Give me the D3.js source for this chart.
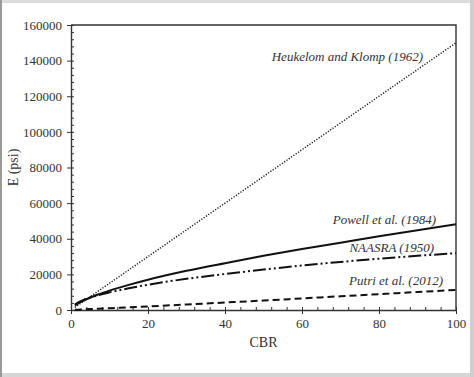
<!DOCTYPE html>
<html>
<head>
<meta charset="utf-8">
<script src="https://cdn.jsdelivr.net/npm/d3@7"></script>
</head>
<body style="margin:0">
<script>
// data
const cbr = [1, 2, 3, 5, 7, 10, 15, 20, 30, 40, 50, 60, 70, 80, 90, 100];
const heukelom = [1500, 3000, 4500, 7500, 10500, 15000, 22500, 30000, 45000, 60000, 75000, 90000, 105000, 120000, 135000, 150000];
const powell = [2500, 3900, 5000, 7000, 8700, 10900, 14100, 17000, 22000, 26300, 30400, 34200, 37800, 41400, 44800, 48100];
const naasra = [3100, 4400, 5400, 7000, 8300, 9900, 12200, 14200, 17500, 20200, 22700, 25000, 27000, 28800, 30400, 31900];
const putri = [100, 200, 300, 500, 700, 1000, 1500, 2000, 3100, 4200, 5300, 6500, 7700, 8900, 10100, 11300];
const xTicks = [0, 20, 40, 60, 80, 100];
const yTicks = [0, 20000, 40000, 60000, 80000, 100000, 120000, 140000, 160000];

const series = [
  {name: 'Heukelom and Klomp (1962)', values: heukelom, dash: '1.2,1.6', w: 1.4, lx: 423, ly: 61},
  {name: 'Powell et al. (1984)', values: powell, dash: null, w: 2, lx: 436, ly: 224},
  {name: 'NAASRA (1950)', values: naasra, dash: '13,3,2,3,2,3', w: 2, lx: 434, ly: 252},
  {name: 'Putri et al. (2012)', values: putri, dash: '7,4', w: 2, lx: 443, ly: 285}
];

const W = 474, H = 377;
const plot = {left: 71, right: 456, top: 25, bottom: 310};
const serif = "'Liberation Serif'";

const svg = d3.select('body')
  .append('svg')
  .attr('width', W)
  .attr('height', H)
  .style('display', 'block');

// outer frame of the figure
svg.append('rect').attr('x', 0).attr('y', 0).attr('width', W).attr('height', 3).attr('fill', '#dcdcdc');
svg.append('rect').attr('x', 0).attr('y', 373).attr('width', W).attr('height', 4).attr('fill', '#d6d6d6');
svg.append('rect').attr('x', 470).attr('y', 0).attr('width', 4).attr('height', H).attr('fill', '#cfcfcf');
svg.append('rect').attr('x', 0).attr('y', 0).attr('width', 2).attr('height', H).attr('fill', '#9a9a9a');

const x = d3.scaleLinear().domain([0, 100]).range([plot.left, plot.right]);
const y = d3.scaleLinear().domain([0, 160000]).range([plot.bottom, plot.top]);

// box top/right
svg.append('path')
  .attr('d', `M${plot.left},${plot.top}H${plot.right}V${plot.bottom}`)
  .attr('fill', 'none')
  .attr('stroke', '#333')
  .attr('stroke-width', 1.4);

// minor ticks (inside)
const xAxisMinor = d3.axisTop(x).tickValues(d3.range(0, 101, 4)).tickSize(3).tickFormat('');
svg.append('g')
  .attr('transform', `translate(0, ${plot.bottom})`)
  .call(xAxisMinor)
  .call(g => g.select('.domain').remove());

const yAxisMinor = d3.axisRight(y).tickValues(d3.range(0, 160001, 4000)).tickSize(3).tickFormat('');
svg.append('g')
  .attr('transform', `translate(${plot.left}, 0)`)
  .call(yAxisMinor)
  .call(g => g.select('.domain').remove());

// major axes
const xAxis = d3.axisBottom(x).tickValues(xTicks).tickSize(4).tickSizeOuter(0).tickPadding(5)
  .tickFormat(d3.format('d'));
svg.append('g')
  .attr('class', 'x-axis')
  .attr('transform', `translate(0, ${plot.bottom})`)
  .call(xAxis);

const yAxis = d3.axisLeft(y).tickValues(yTicks).tickSize(4).tickSizeOuter(0).tickPadding(5)
  .tickFormat(d3.format('d'));
svg.append('g')
  .attr('class', 'y-axis')
  .attr('transform', `translate(${plot.left}, 0)`)
  .call(yAxis);

svg.selectAll('.x-axis, .y-axis').attr('font-family', null);
svg.selectAll('.x-axis text, .y-axis text')
  .style('font-family', serif)
  .style('font-size', '13px')
  .attr('fill', '#333');
svg.selectAll('.tick line').attr('stroke', '#333');
svg.selectAll('.domain').attr('stroke', '#333').attr('stroke-width', 1.4);

// axis labels
svg.append('text')
  .attr('x', (plot.left + plot.right) / 2)
  .attr('y', 347)
  .attr('text-anchor', 'middle')
  .style('font-family', serif)
  .style('font-size', '14px')
  .attr('fill', '#333')
  .text('CBR');

svg.append('text')
  .attr('transform', `translate(18, ${(plot.top + plot.bottom) / 2}) rotate(-90)`)
  .attr('text-anchor', 'middle')
  .style('font-family', serif)
  .style('font-size', '14px')
  .attr('fill', '#333')
  .text('E (psi)');

// lines
const line = d3.line()
  .x((d, i) => x(cbr[i]))
  .y(d => y(d))
  .curve(d3.curveMonotoneX);

series.forEach(s => {
  svg.append('path')
    .datum(s.values)
    .attr('d', line)
    .attr('fill', 'none')
    .attr('stroke', '#111')
    .attr('stroke-width', s.w)
    .attr('stroke-dasharray', s.dash);

  svg.append('text')
    .attr('x', s.lx)
    .attr('y', s.ly)
    .attr('text-anchor', 'end')
    .style('font-family', serif)
    .style('font-size', '13px')
    .style('font-style', 'italic')
    .attr('fill', '#333')
    .text(s.name);
});
</script>
</body>
</html>
